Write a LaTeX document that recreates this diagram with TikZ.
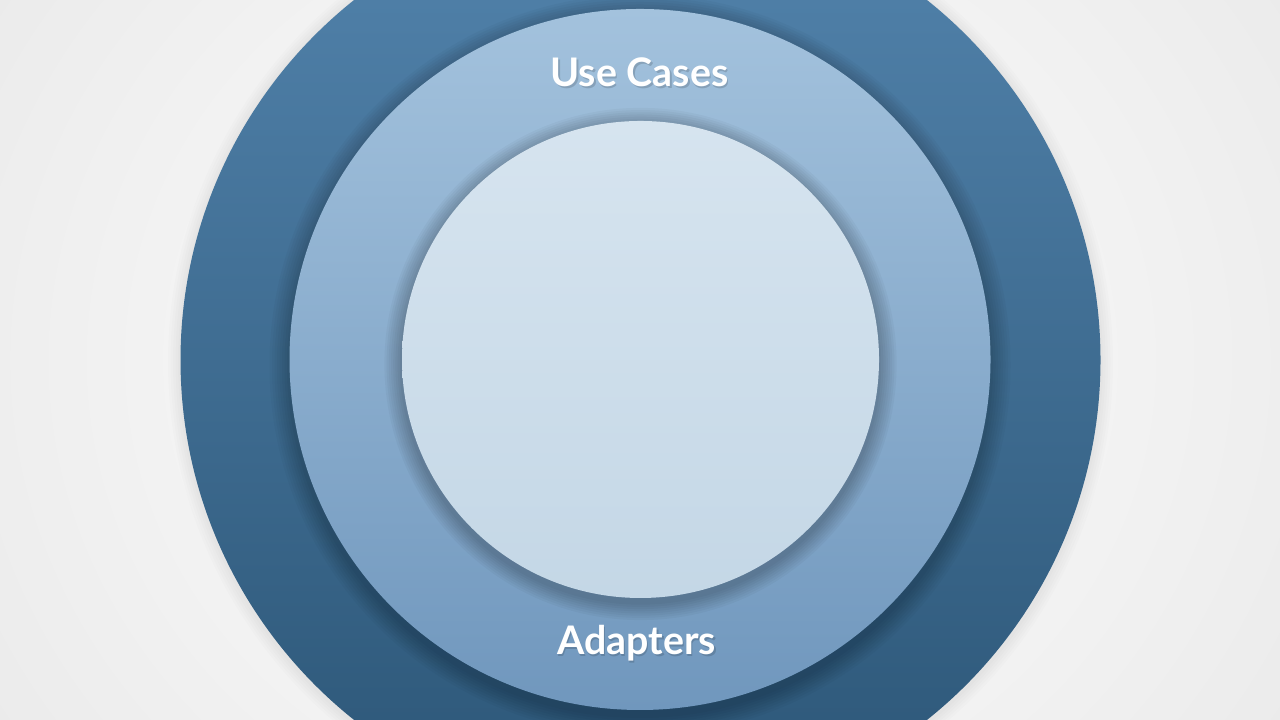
\documentclass[tikz,border=0pt]{standalone}
\usepackage{fontspec}
\setmainfont{Lato}
\usetikzlibrary{shadings}
\definecolor{bgedge}{HTML}{E9E9E9}
\definecolor{outertop}{HTML}{5283AC}
\definecolor{outerbot}{HTML}{2C5677}
\definecolor{midtop}{HTML}{A3C2DD}
\definecolor{midbot}{HTML}{7097BD}
\definecolor{innertop}{HTML}{D6E4EF}
\definecolor{innerbot}{HTML}{C4D7E6}
\tikzset{
  ringlabel/.style={text=white, font=\bfseries\fontsize{11.2}{13}\selectfont, inner sep=0pt},
  labelshadow/.style={text=black, opacity=0.15, font=\bfseries\fontsize{11.2}{13}\selectfont, inner sep=0pt},
}
\begin{document}
\begin{tikzpicture}
\useasboundingbox (0,0) rectangle (12.8,7.2);
\clip (0,0) rectangle (12.8,7.2);
\shade[inner color=white, outer color=bgedge] (-2,-4) rectangle (14.8,11.2);
% shadow of outer circle
\foreach \i in {1,...,5}{
  \fill[black, opacity=0.012] (6.405,3.58) circle ({4.6+0.025*\i});
}
\shade[top color=outertop, bottom color=outerbot] (6.405,3.6) circle (4.6);
% shadow of middle circle
\foreach \i in {1,...,8}{
  \fill[black, opacity=0.028] (6.4,3.55) circle ({3.505+0.025*\i});
}
\shade[top color=midtop, bottom color=midbot] (6.4,3.605) circle (3.505);
% shadow of inner circle
\foreach \i in {1,...,8}{
  \fill[black, opacity=0.03] (6.405,3.56) circle ({2.385+0.022*\i});
}
\shade[top color=innertop, bottom color=innerbot] (6.405,3.605) circle (2.385);
% labels
\node[labelshadow] at (6.41,6.46) {Use Cases};
\node[ringlabel] (uc) at (6.395,6.48) {Use Cases};
\node[labelshadow] at (6.38,0.75) {Adapters};
\node[ringlabel] (ad) at (6.365,0.77) {Adapters};
\end{tikzpicture}
\end{document}
